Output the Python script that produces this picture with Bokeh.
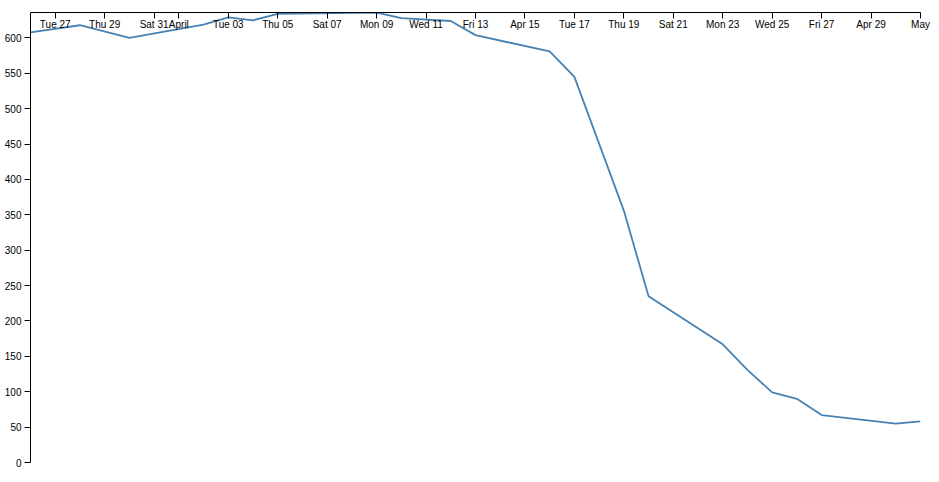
import pandas as pd
from bokeh.plotting import figure
from bokeh.models import Range1d, FixedTicker, SingleIntervalTicker
from bokeh.embed import file_html
from bokeh.resources import INLINE

# ---- data ----
dates = ["2012-03-26", "2012-03-28", "2012-03-30", "2012-04-02", "2012-04-03",
         "2012-04-04", "2012-04-05", "2012-04-09", "2012-04-10", "2012-04-12",
         "2012-04-13", "2012-04-16", "2012-04-17", "2012-04-19", "2012-04-20",
         "2012-04-23", "2012-04-24", "2012-04-25", "2012-04-26", "2012-04-27",
         "2012-04-30", "2012-05-01"]
values = [608, 618, 600, 619, 629, 625, 634, 636, 628, 624,
          604, 581, 545, 356, 235, 167, 131, 99, 90, 67,
          55, 58]

tick_dates = ["2012-03-27", "2012-03-29", "2012-03-31", "2012-04-01", "2012-04-03",
              "2012-04-05", "2012-04-07", "2012-04-09", "2012-04-11", "2012-04-13",
              "2012-04-15", "2012-04-17", "2012-04-19", "2012-04-21", "2012-04-23",
              "2012-04-25", "2012-04-27", "2012-04-29", "2012-05-01"]
tick_labels = ["Tue 27", "Thu 29", "Sat 31", "April", "Tue 03",
               "Thu 05", "Sat 07", "Mon 09", "Wed 11", "Fri 13",
               "Apr 15", "Tue 17", "Thu 19", "Sat 21", "Mon 23",
               "Wed 25", "Fri 27", "Apr 29", "May"]
x_start = "2012-03-26"
x_end = "2012-05-01"


def to_ms(s):
    return float(pd.Timestamp(s).value // 10**6)


xs = [to_ms(d) for d in dates]
tick_ms = [to_ms(d) for d in tick_dates]

p = figure(width=931, height=474, output_backend="svg", toolbar_location=None,
           x_axis_location="above",
           x_range=Range1d(to_ms(x_start), to_ms(x_end)),
           y_range=Range1d(0, max(values)),
           min_border_left=30, min_border_right=11, min_border_top=12,
           min_border_bottom=12)

p.line(xs, values, line_color="#4682b4", line_width=1.8)

p.outline_line_color = None
p.xgrid.visible = False
p.ygrid.visible = False
p.background_fill_color = "white"
p.border_fill_color = "white"

xa = p.xaxis[0]
xa.ticker = FixedTicker(ticks=tick_ms)
xa.major_label_overrides = {t: l for t, l in zip(tick_ms, tick_labels)}
xa.major_tick_in = 6
xa.major_tick_out = 0
xa.minor_tick_line_color = None
xa.major_label_standoff = -17
xa.axis_line_color = "black"
xa.major_tick_line_color = "black"

ya = p.yaxis[0]
ya.ticker = SingleIntervalTicker(interval=50)
ya.major_tick_in = 0
ya.major_tick_out = 6
ya.minor_tick_line_color = None
ya.major_label_standoff = 3
ya.axis_line_color = "black"
ya.major_tick_line_color = "black"

for ax in (xa, ya):
    ax.major_label_text_font = "Liberation Sans"
    ax.major_label_text_font_size = "10px"
    ax.major_label_text_color = "black"

open("out.html", "w").write(file_html(p, INLINE))
